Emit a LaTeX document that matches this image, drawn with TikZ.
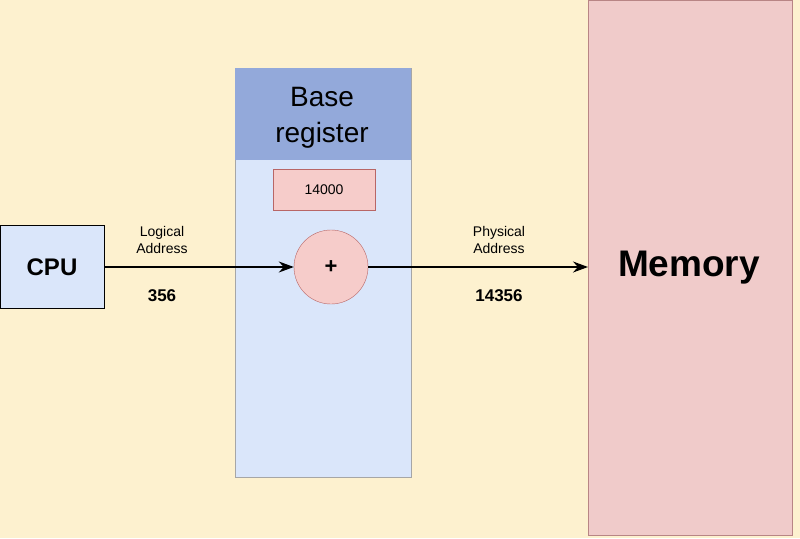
\documentclass[tikz,border=0pt]{standalone}
\usepackage{fontspec}
\setmainfont{Liberation Sans}
\usetikzlibrary{arrows.meta}
\definecolor{cream}{HTML}{FDF1CF}
\definecolor{mempink}{HTML}{F0CBCA}
\definecolor{memedge}{HTML}{B88585}
\definecolor{lblue}{HTML}{DAE6FA}
\definecolor{hblue}{HTML}{93A9DA}
\definecolor{rpink}{HTML}{F6CCCA}
\definecolor{redge}{HTML}{B86666}
\tikzset{
  px/.style={x=1pt,y=-1pt},
  lbl/.style={font=\fontsize{14}{17}\selectfont,align=center,inner sep=0},
  num/.style={font=\fontsize{17}{19}\selectfont\bfseries,inner sep=0},
  arr/.style={-{Stealth[length=15pt,width=11pt]},line width=1.3pt}
}
\begin{document}
\begin{tikzpicture}[px]
\fill[cream] (0,0) rectangle (800,538);
\useasboundingbox (0,0) rectangle (800,538);
\draw[memedge,fill=mempink] (588,0) rectangle (792,535);
\node[font=\fontsize{37}{40}\selectfont\bfseries] (mem) at (689,268) {Memory};
\coordinate (memin) at (588,267);
\draw[gray!70,fill=lblue] (235,68) rectangle (411,477);
\fill[hblue] (235,68) rectangle (411,160);
\node[font=\fontsize{28}{36}\selectfont,align=center] (base) at (322,118) {Base\\register};
\node[draw=redge,fill=rpink,minimum width=102pt,minimum height=41pt,font=\fontsize{14}{16}\selectfont] (reg) at (324,190) {14000};
\node[draw=redge,fill=rpink,circle,minimum size=74pt,font=\fontsize{22}{24}\selectfont\bfseries,inner sep=0] (plus) at (331,267) {+};
\node[draw=black,fill=lblue,minimum width=104pt,minimum height=83pt,font=\fontsize{24}{26}\selectfont\bfseries] (cpu) at (52,267) {CPU};
\draw[arr] (cpu.east) -- (plus.west);
\draw[arr] (plus.east) -- (memin);
\node[lbl] (la) at (162,240) {Logical\\Address};
\node[num] (ln) at (162,296) {356};
\node[lbl] (pa) at (499,240) {Physical\\Address};
\node[num] (pn) at (499,296) {14356};
\end{tikzpicture}
\end{document}
